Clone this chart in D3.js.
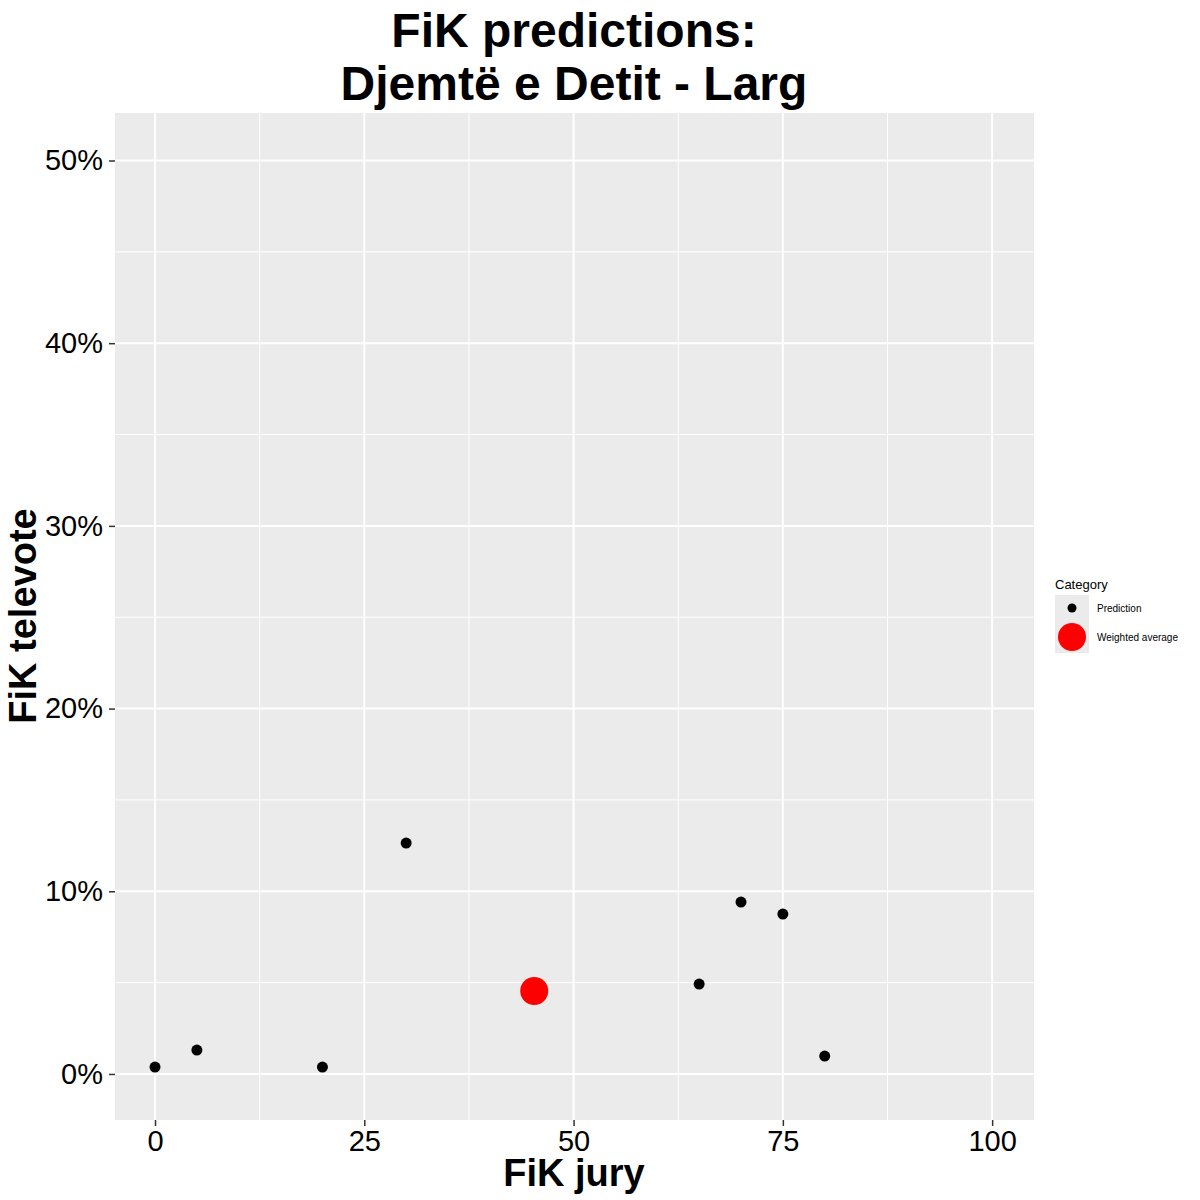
<!DOCTYPE html>
<html><head><meta charset="utf-8">
<script src="https://cdn.jsdelivr.net/npm/d3@7"></script>
<style>body{margin:0;background:#fff}text{font-family:"Liberation Sans",Arial,sans-serif}</style>
</head><body><div id="chart"></div>
<script>
var predJury = [0, 5, 20, 30, 65, 70, 75, 80];
var predTele = [0.38, 1.31, 0.38, 12.64, 4.92, 9.41, 8.75, 0.98];
var avgJury = [45.3];
var avgTele = [4.54];
var xTicks = [0, 25, 50, 75, 100];
var yTicks = [0, 10, 20, 30, 40, 50];

var W = 1200, H = 1200;
var svg = d3.select("#chart").append("svg").attr("width", W).attr("height", H);
var pLeft = 115, pRight = 1034, pTop = 113, pBottom = 1120;
var x = d3.scaleLinear().domain([-4.78, 105]).range([pLeft, pRight]);
var y = d3.scaleLinear().domain([-2.52, 52.6]).range([pBottom, pTop]);

svg.append("rect").attr("x", pLeft).attr("y", pTop).attr("width", pRight - pLeft).attr("height", pBottom - pTop).attr("fill", "#ebebeb");
var xm = [12.5, 37.5, 62.5, 87.5], ym = [5, 15, 25, 35, 45];
xm.forEach(function(v){ svg.append("line").attr("x1", x(v)).attr("x2", x(v)).attr("y1", pTop).attr("y2", pBottom).attr("stroke", "#fff").attr("stroke-width", 1); });
ym.forEach(function(v){ svg.append("line").attr("y1", y(v)).attr("y2", y(v)).attr("x1", pLeft).attr("x2", pRight).attr("stroke", "#fff").attr("stroke-width", 1); });
xTicks.forEach(function(v){ svg.append("line").attr("x1", x(v)).attr("x2", x(v)).attr("y1", pTop).attr("y2", pBottom).attr("stroke", "#fff").attr("stroke-width", 2); });
yTicks.forEach(function(v){ svg.append("line").attr("y1", y(v)).attr("y2", y(v)).attr("x1", pLeft).attr("x2", pRight).attr("stroke", "#fff").attr("stroke-width", 2); });

var xa = svg.append("g").attr("transform", "translate(0," + pBottom + ")")
  .call(d3.axisBottom(x).tickValues(xTicks).tickSize(6).tickPadding(4));
var ya = svg.append("g").attr("transform", "translate(" + pLeft + ",0)")
  .call(d3.axisLeft(y).tickValues(yTicks).tickFormat(function(d){ return d + "%"; }).tickSize(6).tickPadding(6));
[xa, ya].forEach(function(a){
  a.select(".domain").remove();
  a.selectAll("line").attr("stroke", "#333").attr("stroke-width", 1.5);
  a.selectAll("text").attr("fill", "#000").style("font-size", "29px").style("font-family", "Liberation Sans, Arial, sans-serif");
});

svg.selectAll(".pred").data(predJury).enter().append("circle")
  .attr("cx", function(d){ return x(d); }).attr("cy", function(d, i){ return y(predTele[i]); })
  .attr("r", 5.5).attr("fill", "#000");
svg.selectAll(".avg").data(avgJury).enter().append("circle")
  .attr("cx", function(d){ return x(d); }).attr("cy", function(d, i){ return y(avgTele[i]); })
  .attr("r", 14).attr("fill", "#ff0000");

svg.append("text").attr("x", 574).attr("y", 47).attr("text-anchor", "middle").style("font-size", "48px").style("font-weight", "bold").text("FiK predictions:");
svg.append("text").attr("x", 574).attr("y", 100).attr("text-anchor", "middle").style("font-size", "48px").style("font-weight", "bold").text("Djemtë e Detit - Larg");
svg.append("text").attr("x", 574).attr("y", 1186).attr("text-anchor", "middle").style("font-size", "38px").style("font-weight", "bold").text("FiK jury");
svg.append("text").attr("transform", "translate(36,616) rotate(-90)").attr("text-anchor", "middle").style("font-size", "38px").style("font-weight", "bold").text("FiK televote");

var lg = svg.append("g");
lg.append("text").attr("x", 1055).attr("y", 589).style("font-size", "13px").text("Category");
lg.append("rect").attr("x", 1055).attr("y", 595).attr("width", 34).attr("height", 58).attr("fill", "#ebebeb");
lg.append("circle").attr("cx", 1072).attr("cy", 608).attr("r", 4.5).attr("fill", "#000");
lg.append("circle").attr("cx", 1072).attr("cy", 637).attr("r", 14).attr("fill", "#ff0000");
lg.append("text").attr("x", 1097).attr("y", 612).style("font-size", "10px").text("Prediction");
lg.append("text").attr("x", 1097).attr("y", 641).style("font-size", "10px").text("Weighted average");
</script></body></html>
